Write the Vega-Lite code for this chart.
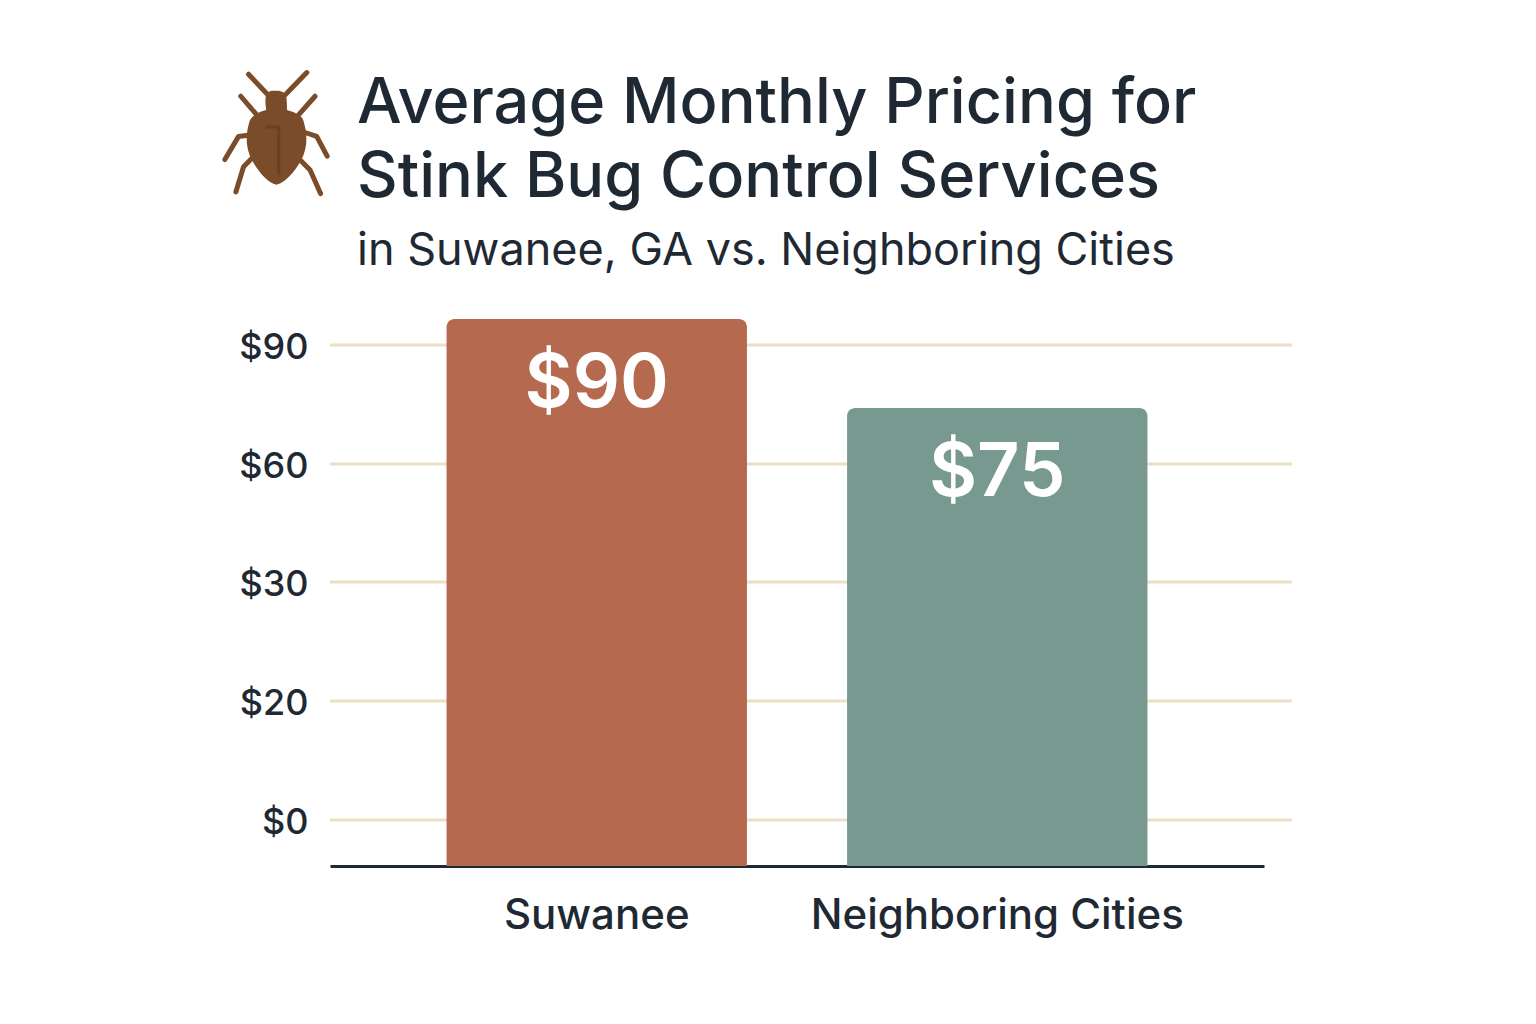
{
  "$schema": "https://vega.github.io/schema/vega-lite/v6.json",
  "width": 962,
  "height": 566,
  "autosize": "none",
  "padding": {"left": 330, "top": 300, "right": 244, "bottom": 158},
  "background": "white",
  "title": {
    "text": ["Average Monthly Pricing for", "Stink Bug Control Services"],
    "subtitle": "in Suwanee, GA vs. Neighboring Cities",
    "anchor": "start",
    "frame": "group",
    "dx": 27,
    "offset": -204,
    "font": "Inter",
    "fontSize": 63,
    "fontWeight": 500,
    "lineHeight": 74,
    "color": "#1f2933",
    "subtitleFont": "Inter",
    "subtitleFontSize": 45,
    "subtitleFontWeight": 400,
    "subtitleColor": "#1f2933",
    "subtitlePadding": 19
  },
  "config": {"view": {"stroke": null}},
  "layer": [
    {
      "data": {"values": [{"tick": 0}, {"tick": 20}, {"tick": 30}, {"tick": 60}, {"tick": 90}]},
      "mark": {"type": "rule", "color": "#ebdfc6", "strokeWidth": 3},
      "encoding": {
        "y": {"field": "tick", "type": "quantitative", "title": null}
      }
    },
    {
      "data": {
        "values": [
          {"city": "Suwanee", "axis_reading": 96.5, "price": "$90"},
          {"city": "Neighboring Cities", "axis_reading": 74.1, "price": "$75"}
        ]
      },
      "layer": [
        {
          "mark": {"type": "bar", "cornerRadiusTopLeft": 8, "cornerRadiusTopRight": 8},
          "encoding": {
            "x": {
              "field": "city",
              "type": "nominal",
              "sort": null,
              "title": null,
              "scale": {"range": [0, 934], "paddingInner": 0.25, "paddingOuter": 0.291},
              "axis": {
                "labelAngle": 0,
                "labelFont": "Inter",
                "labelFontSize": 42,
                "labelFontWeight": 500,
                "labelColor": "#1f2933",
                "labelPadding": 29,
                "labelLimit": 500,
                "ticks": false,
                "domainColor": "#1f2933",
                "domainWidth": 3
              }
            },
            "y": {
              "field": "axis_reading",
              "type": "quantitative",
              "title": null,
              "scale": {
                "domain": [-7.7, 0, 20, 30, 60, 90, 96.5],
                "range": [566, 520, 401, 282, 164, 45, 19],
                "nice": false
              },
              "axis": {
                "values": [0, 20, 30, 60, 90],
                "format": "$.0f",
                "labelFont": "Inter",
                "labelFontSize": 36,
                "labelFontWeight": 500,
                "labelColor": "#1f2933",
                "labelPadding": 22,
                "labelOffset": 2,
                "ticks": false,
                "domain": false,
                "grid": false
              }
            },
            "y2": {"datum": -7.7},
            "color": {
              "field": "city",
              "type": "nominal",
              "sort": null,
              "legend": null,
              "scale": {"range": ["#b5694f", "#78998f"]}
            }
          }
        },
        {
          "mark": {
            "type": "text",
            "baseline": "top",
            "align": "center",
            "dy": 30,
            "font": "Inter",
            "fontSize": 74,
            "fontWeight": 600,
            "color": "white"
          },
          "encoding": {
            "x": {"field": "city", "type": "nominal", "sort": null},
            "y": {"field": "axis_reading", "type": "quantitative"},
            "text": {"field": "price"}
          }
        }
      ]
    },
    {
      "data": {"values": [{"icon": "stink bug"}]},
      "layer": [
        {
          "mark": {
            "type": "point",
            "x": -54,
            "y": -168,
            "size": 12100,
            "filled": false,
            "stroke": "#7a4c2a",
            "strokeWidth": 5,
            "strokeCap": "round",
            "strokeJoin": "round",
            "opacity": 1,
            "shape": "M-0.17 -0.70L-0.50 -1.05M0.16 -0.67L0.56 -1.08M-0.35 -0.31L-0.64 -0.65M0.41 -0.31L0.71 -0.65M-0.44 0.05L-0.68 0.08L-0.93 0.50M0.50 0L0.74 0.08L0.93 0.44M-0.41 0.45L-0.59 0.63L-0.73 1.09M0.44 0.51L0.62 0.69L0.81 1.12"
          }
        },
        {
          "mark": {
            "type": "point",
            "x": -54,
            "y": -168,
            "size": 12100,
            "filled": true,
            "fill": "#7a4c2a",
            "opacity": 1,
            "shape": "M-0.02 -0.75C0.1 -0.76 0.18 -0.72 0.19 -0.62C0.2 -0.52 0.2 -0.45 0.2 -0.40C0.34 -0.36 0.48 -0.30 0.5 -0.2C0.56 0 0.58 0.2 0.5 0.42C0.42 0.62 0.2 0.92 0.01 0.96C-0.18 0.92 -0.4 0.62 -0.48 0.42C-0.56 0.2 -0.54 0 -0.48 -0.2C-0.44 -0.3 -0.32 -0.36 -0.18 -0.40C-0.18 -0.45 -0.2 -0.52 -0.19 -0.62C-0.18 -0.72 -0.12 -0.76 -0.02 -0.75Z"
          }
        },
        {
          "mark": {
            "type": "point",
            "x": -54,
            "y": -168,
            "size": 12100,
            "filled": false,
            "stroke": "#694024",
            "strokeWidth": 3,
            "opacity": 1,
            "shape": "M-0.2 -0.09L0.05 -0.09L0.05 0.78"
          }
        }
      ]
    }
  ]
}
